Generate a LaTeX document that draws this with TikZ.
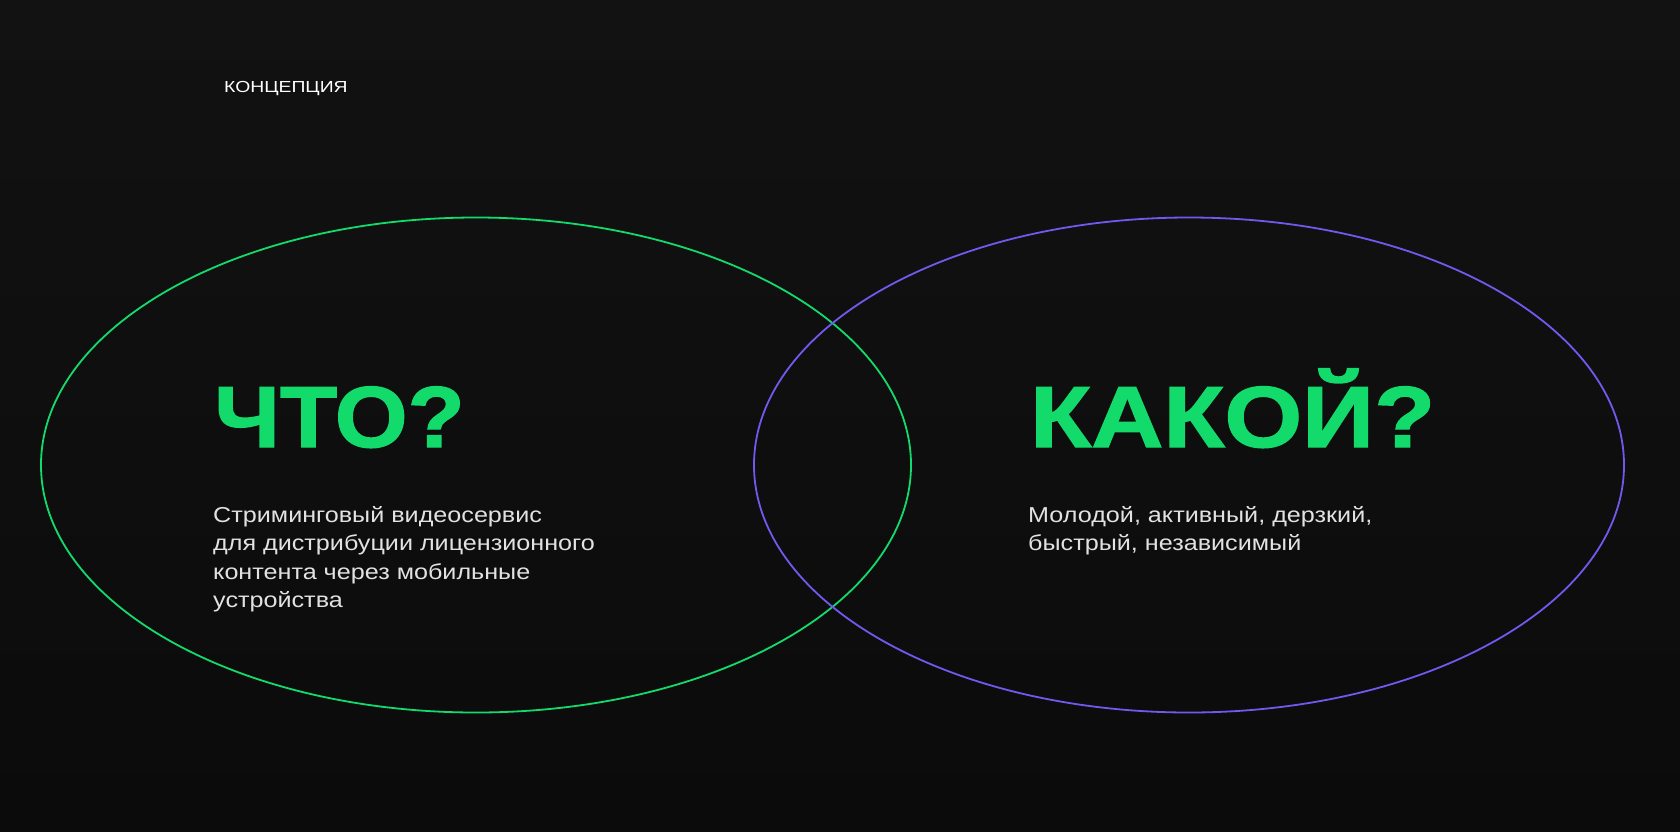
\documentclass[tikz,border=0pt]{standalone}
\usepackage{fontspec}
\setmainfont{Liberation Sans}
\newfontfamily\headfont{Liberation Sans}[FakeStretch=1.08,FakeBold=1.6]
\newfontfamily\headwidefont{Liberation Sans}[FakeStretch=1.155,FakeBold=1.6]
\newfontfamily\bodyfont{Liberation Sans}[FakeStretch=1.165]
\newfontfamily\titlefont{Liberation Sans}[FakeStretch=1.21]
\definecolor{bgtop}{HTML}{131212}
\definecolor{bgbot}{HTML}{0C0B0C}
\definecolor{vgreen}{HTML}{12DB6B}
\definecolor{vpurple}{HTML}{7159F0}
\definecolor{bodytxt}{HTML}{E2E2E2}
\tikzset{
  headline/.style={anchor=base west, inner sep=0pt, text=vgreen,
    font=\headfont\bfseries\fontsize{86.6}{90}\selectfont},
  headwide/.style={headline, font=\headwidefont\bfseries\fontsize{86.6}{90}\selectfont},
  bodytext/.style={anchor=base west, inner sep=0pt, text=bodytxt, align=left,
    font=\bodyfont\fontsize{21.6}{28.5}\selectfont},
  label/.style={anchor=base west, inner sep=0pt, text=white,
    font=\titlefont\fontsize{16}{18}\selectfont},
  ring/.style={line width=1.8pt}
}
\begin{document}
\begin{tikzpicture}[x=1pt,y=-1pt]
\useasboundingbox (0,0) rectangle (1680,831);
\shade[top color=bgtop, bottom color=bgbot] (0,0) rectangle (1680,831);
\draw[ring, vgreen] (476,465) ellipse [x radius=435pt, y radius=247.5pt];
\draw[ring, vpurple] (1189,465) ellipse [x radius=435pt, y radius=247.5pt];
\node[label] (title) at (224,92) {КОНЦЕПЦИЯ};
\node[headline] (what) at (214,447) {ЧТО?};
\node[headwide] (which) at (1030,447) {КАКОЙ?};
\node[bodytext] (whatdesc) at (213,607.5) {Стриминговый видеосервис\\для дистрибуции лицензионного\\контента через мобильные\\устройства};
\node[bodytext] (whichdesc) at (1028,550.5) {Молодой, активный, дерзкий,\\быстрый, независимый};
\end{tikzpicture}
\end{document}
